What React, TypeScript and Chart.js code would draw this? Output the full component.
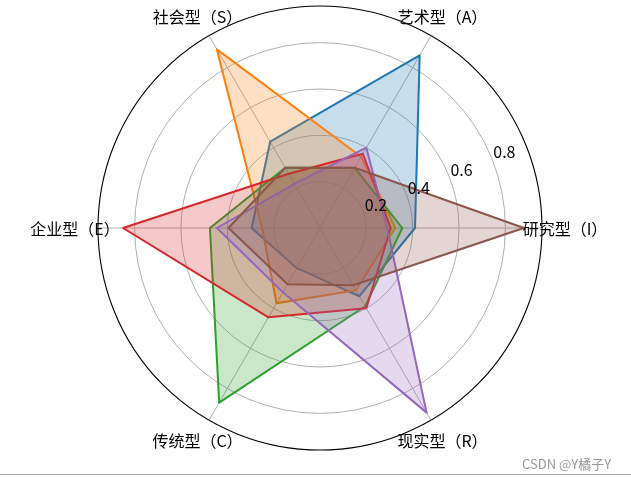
import { useEffect, useRef } from 'react'
import { Chart, registerables } from 'chart.js'

Chart.register(...registerables)

// clockwise from the right-hand axis
const LABELS = ['研究型（I）', '现实型（R）', '传统型（C）', '企业型（E）', '社会型（S）', '艺术型（A）']

const BLUE = [0.41, 0.34, 0.2, 0.295, 0.43, 0.86]
const ORANGE = [0.325, 0.31, 0.375, 0.25, 0.89, 0.355]
const GREEN = [0.355, 0.39, 0.87, 0.475, 0.3, 0.3]
const RED = [0.305, 0.4, 0.445, 0.85, 0.27, 0.37]
const PURPLE = [0.29, 0.92, 0.32, 0.445, 0.22, 0.4]
const BROWN = [0.88, 0.285, 0.28, 0.395, 0.3, 0.3]

const R_TICKS = [0.2, 0.4, 0.6, 0.8]
const R_MAX = 0.958

const SERIES = [
  { data: BLUE, color: '31, 119, 180' },
  { data: ORANGE, color: '255, 127, 14' },
  { data: GREEN, color: '44, 160, 44' },
  { data: RED, color: '214, 39, 40' },
  { data: PURPLE, color: '148, 103, 189' },
  { data: BROWN, color: '140, 86, 75' },
]

const FONT = '"Noto Sans CJK SC", "Noto Sans", sans-serif'

const labelsPlugin = {
  id: 'mplLabels',
  afterDatasetsDraw(chart: any) {
    const scale = chart.scales.r
    const ctx = chart.ctx
    ctx.save()
    ctx.fillStyle = '#000'

    // radial tick labels at 22.5 degrees, like matplotlib
    ctx.font = `16px ${FONT}`
    ctx.textAlign = 'left'
    ctx.textBaseline = 'alphabetic'
    const a = (22.5 * Math.PI) / 180
    R_TICKS.forEach((v) => {
      const d = scale.getDistanceFromCenterForValue(v)
      ctx.fillText(v.toFixed(1), scale.xCenter + d * Math.cos(a) + 2, scale.yCenter - d * Math.sin(a) + 1)
    })

    // category labels centred just outside the outer circle
    ctx.textAlign = 'center'
    ctx.textBaseline = 'middle'
    LABELS.forEach((label, i) => {
      const p = scale.getPointPosition(i, scale.drawingArea + 23)
      ctx.fillText(label, p.x, p.y + 1)
    })
    ctx.restore()
  },
}

export default function App() {
  const chartRef = useRef<HTMLCanvasElement>(null)
  const chartInstance = useRef<Chart | null>(null)

  useEffect(() => {
    if (!chartRef.current) return
    if (chartInstance.current) {
      chartInstance.current.destroy()
    }
    const ctx = chartRef.current.getContext('2d')
    if (!ctx) return

    chartInstance.current = new Chart(ctx, {
      type: 'radar',
      data: {
        labels: LABELS,
        datasets: SERIES.map((s, i) => ({
          data: s.data,
          fill: true,
          backgroundColor: `rgba(${s.color}, 0.25)`,
          borderColor: `rgb(${s.color})`,
          borderWidth: 2,
          borderJoinStyle: 'round' as const,
          pointRadius: 0,
          order: SERIES.length - i,
        })),
      },
      options: {
        responsive: false,
        animation: false,
        layout: {
          padding: { left: 98, top: 6, right: 89, bottom: 29 },
        },
        plugins: {
          legend: { display: false },
          tooltip: { enabled: false },
        },
        scales: {
          r: {
            min: 0,
            max: R_MAX,
            startAngle: 90,
            afterBuildTicks: (scale: any) => {
              scale.ticks = [0, ...R_TICKS, R_MAX].map((value) => ({ value }))
            },
            ticks: { display: false },
            pointLabels: { display: false },
            grid: {
              circular: true,
              color: (c: any) => (c.tick && c.tick.value >= R_MAX ? '#000' : '#b0b0b0'),
              lineWidth: (c: any) => (c.tick && c.tick.value >= R_MAX ? 1.1 : 1),
            },
            angleLines: { color: '#b0b0b0', lineWidth: 1 },
          },
        },
      },
      plugins: [labelsPlugin],
    })

    return () => {
      if (chartInstance.current) {
        chartInstance.current.destroy()
        chartInstance.current = null
      }
    }
  }, [])

  return (
    <div style={{ position: 'absolute', left: 0, top: 0, width: 631, height: 479, background: '#fff' }}>
      <canvas ref={chartRef} width={631} height={479}></canvas>
      <div
        style={{
          position: 'absolute',
          left: 522,
          top: 454,
          fontFamily: FONT,
          fontSize: 13,
          color: '#9a9a9a',
          whiteSpace: 'nowrap',
        }}
      >
        CSDN @Y橘子Y
      </div>
      <div style={{ position: 'absolute', left: 0, top: 474, width: 631, height: 1, background: '#aaa' }}></div>
    </div>
  )
}
